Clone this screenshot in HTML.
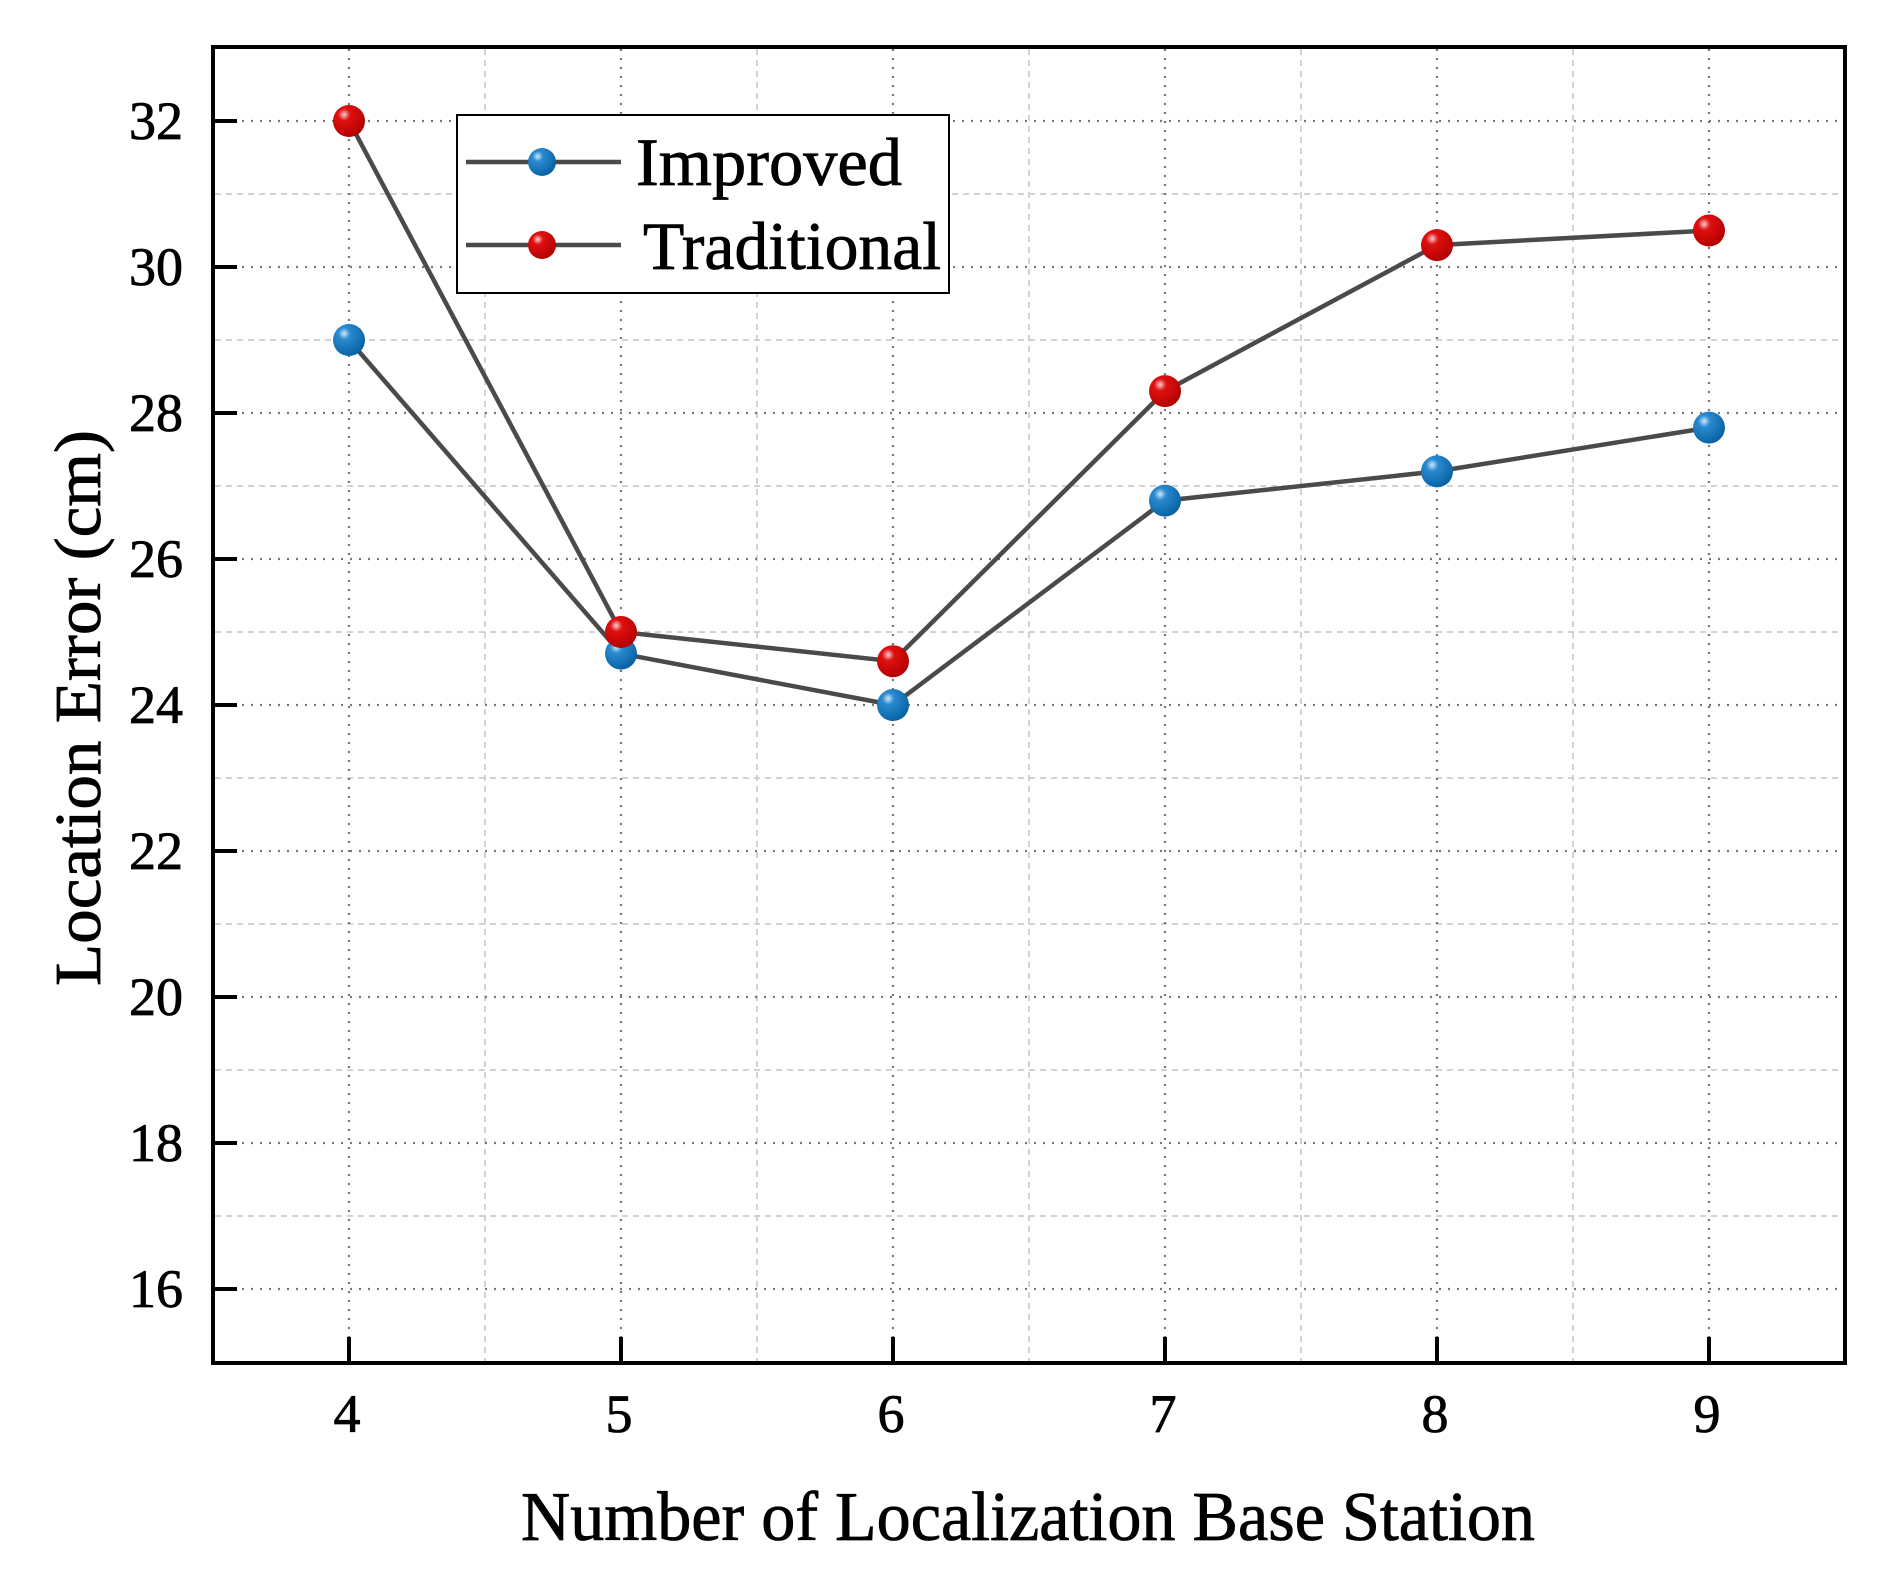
<!DOCTYPE html>
<html><head><meta charset="utf-8"><style>html,body{margin:0;padding:0;background:#fff}</style></head>
<body>
<svg width="1884" height="1573" viewBox="0 0 1884 1573" xmlns="http://www.w3.org/2000/svg" font-family="'Liberation Serif', serif">
<defs>
<radialGradient id="gb" cx="0.35" cy="0.3" r="0.75"><stop offset="0" stop-color="#cfe8f8"/><stop offset="0.25" stop-color="#2a8ad0"/><stop offset="1" stop-color="#0560a0"/></radialGradient>
<radialGradient id="gr" cx="0.35" cy="0.3" r="0.75"><stop offset="0" stop-color="#f8d0d0"/><stop offset="0.25" stop-color="#e01010"/><stop offset="1" stop-color="#b00000"/></radialGradient>
</defs>
<rect width="1884" height="1573" fill="#fff"/>
<g stroke="#c4c4c4" stroke-width="1.5" stroke-dasharray="6,5">
<line x1="485" y1="49" x2="485" y2="1361"/><line x1="757" y1="49" x2="757" y2="1361"/><line x1="1029" y1="49" x2="1029" y2="1361"/><line x1="1301" y1="49" x2="1301" y2="1361"/><line x1="1573" y1="49" x2="1573" y2="1361"/>
<line x1="215" y1="194" x2="1843" y2="194"/><line x1="215" y1="340" x2="1843" y2="340"/><line x1="215" y1="486" x2="1843" y2="486"/><line x1="215" y1="632" x2="1843" y2="632"/><line x1="215" y1="778" x2="1843" y2="778"/><line x1="215" y1="924" x2="1843" y2="924"/><line x1="215" y1="1070" x2="1843" y2="1070"/><line x1="215" y1="1216" x2="1843" y2="1216"/>
</g>
<g stroke="#777" stroke-width="2.2" stroke-dasharray="2,7">
<line x1="349" y1="49" x2="349" y2="1361"/><line x1="621" y1="49" x2="621" y2="1361"/><line x1="893" y1="49" x2="893" y2="1361"/><line x1="1165" y1="49" x2="1165" y2="1361"/><line x1="1437" y1="49" x2="1437" y2="1361"/><line x1="1709" y1="49" x2="1709" y2="1361"/>
<line x1="215" y1="121" x2="1843" y2="121"/><line x1="215" y1="267" x2="1843" y2="267"/><line x1="215" y1="413" x2="1843" y2="413"/><line x1="215" y1="559" x2="1843" y2="559"/><line x1="215" y1="705" x2="1843" y2="705"/><line x1="215" y1="851" x2="1843" y2="851"/><line x1="215" y1="997" x2="1843" y2="997"/><line x1="215" y1="1143" x2="1843" y2="1143"/><line x1="215" y1="1289" x2="1843" y2="1289"/>
</g>
<rect x="213" y="47" width="1632" height="1316" fill="none" stroke="#000" stroke-width="4"/>
<g stroke="#000" stroke-width="4">
<line x1="349" y1="1363" x2="349" y2="1337"/><line x1="621" y1="1363" x2="621" y2="1337"/><line x1="893" y1="1363" x2="893" y2="1337"/><line x1="1165" y1="1363" x2="1165" y2="1337"/><line x1="1437" y1="1363" x2="1437" y2="1337"/><line x1="1709" y1="1363" x2="1709" y2="1337"/>
<line x1="213" y1="121" x2="237" y2="121"/><line x1="213" y1="267" x2="237" y2="267"/><line x1="213" y1="413" x2="237" y2="413"/><line x1="213" y1="559" x2="237" y2="559"/><line x1="213" y1="705" x2="237" y2="705"/><line x1="213" y1="851" x2="237" y2="851"/><line x1="213" y1="997" x2="237" y2="997"/><line x1="213" y1="1143" x2="237" y2="1143"/><line x1="213" y1="1289" x2="237" y2="1289"/>
</g>
<g fill="#000" stroke="#000" stroke-width="0.8">
<g font-size="54" text-anchor="end">
<text x="183" y="139">32</text><text x="183" y="285">30</text><text x="183" y="431">28</text><text x="183" y="577">26</text><text x="183" y="723">24</text><text x="183" y="869">22</text><text x="183" y="1015">20</text><text x="183" y="1161">18</text><text x="183" y="1307">16</text>
</g>
<g font-size="54" text-anchor="middle">
<text x="347" y="1432">4</text><text x="619" y="1432">5</text><text x="891" y="1432">6</text><text x="1163" y="1432">7</text><text x="1435" y="1432">8</text><text x="1707" y="1432">9</text>
</g>
<text x="521" y="1540" font-size="70" textLength="1014" lengthAdjust="spacingAndGlyphs">Number of Localization Base Station</text>
<text transform="translate(100,986) rotate(-90)" font-size="66" textLength="556" lengthAdjust="spacingAndGlyphs">Location Error (cm)</text>
</g>
<g fill="none" stroke="#4a4a4a" stroke-width="4.5">
<polyline points="349,340 621,653.6 893,705 1165,500.6 1437,471.4 1709,427.6"/>
<polyline points="349,121 621,632 893,661.2 1165,391.1 1437,245.1 1709,230.5"/>
</g>
<g fill="url(#gb)">
<circle cx="349" cy="340" r="16"/><circle cx="621" cy="653.6" r="16"/><circle cx="893" cy="705" r="16"/><circle cx="1165" cy="500.6" r="16"/><circle cx="1437" cy="471.4" r="16"/><circle cx="1709" cy="427.6" r="16"/>
</g>
<g fill="url(#gr)">
<circle cx="349" cy="121" r="16"/><circle cx="621" cy="632" r="16"/><circle cx="893" cy="661.2" r="16"/><circle cx="1165" cy="391.1" r="16"/><circle cx="1437" cy="245.1" r="16"/><circle cx="1709" cy="230.5" r="16"/>
</g>
<rect x="457" y="115" width="492" height="178" fill="#fff" stroke="#000" stroke-width="2"/>
<g stroke="#4a4a4a" stroke-width="4.5"><line x1="466" y1="162" x2="621" y2="162"/><line x1="466" y1="245" x2="621" y2="245"/></g>
<circle cx="542" cy="162" r="14" fill="url(#gb)"/>
<circle cx="542" cy="245" r="14" fill="url(#gr)"/>
<g fill="#000" stroke="#000" stroke-width="0.8">
<text x="636" y="185" font-size="68" textLength="266" lengthAdjust="spacingAndGlyphs">Improved</text>
<text x="643" y="269" font-size="68" textLength="298" lengthAdjust="spacingAndGlyphs">Traditional</text>
</g>
</svg>
</body></html>
